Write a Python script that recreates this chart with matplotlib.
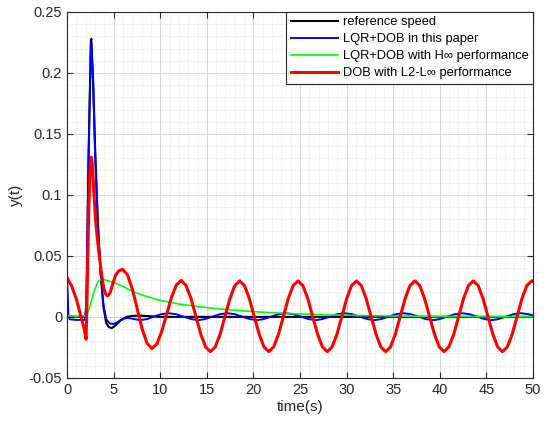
import matplotlib.pyplot as plt
from matplotlib.ticker import MultipleLocator

# reference speed
t_ref = [0, 2.0, 2.1, 2.3, 2.55, 2.6, 2.8, 3.0, 3.3, 3.6, 3.9, 4.2, 4.5, 4.8, 5.2, 5.7, 6.4, 7.0, 7.8, 9.0, 10.0, 50.0]
y_ref = [0, 0, 0.012, 0.13, 0.226, 0.228, 0.192, 0.14, 0.078, 0.036, 0.008, -0.005, -0.0085, -0.0092, -0.007, -0.003,
         0, 0.0008, 0.001, 0.0005, 0, 0]

# LQR+DOB in this paper
t_lqr = [0, 0.15, 0.3, 1.0, 1.9, 2.05, 2.3, 2.55, 2.6, 2.8, 3.0, 3.3, 3.6, 3.9, 4.2, 4.6, 5.0, 5.5, 6.0, 6.5, 7.0,
         7.8, 8.6, 9.3, 10.1, 10.9, 11.7, 12.5, 13.3, 14.1, 14.8, 15.6, 16.4, 17.2, 18.0, 18.8, 19.6,
         20.4, 21.1, 21.9, 22.7, 23.5, 24.3, 25.1, 25.9, 26.7, 27.4, 28.2, 29.0, 29.8, 30.6, 31.4, 32.2,
         33.0, 33.7, 34.5, 35.3, 36.1, 36.9, 37.7, 38.5, 39.3, 40.0, 40.8, 41.6, 42.4, 43.2, 44.0, 44.8,
         45.6, 46.3, 47.1, 47.9, 48.7, 49.5, 50.0]
y_lqr = [0.033, 0.0, -0.002, -0.0025, -0.0025, 0.01, 0.13, 0.222, 0.224, 0.19, 0.135, 0.075, 0.035, 0.010, -0.002,
         -0.0055, -0.0058, -0.004, -0.0015, -0.0008, -0.0015,
         -0.0027, -0.0018, 0.0002, 0.0022, 0.0030, 0.0022, 0.0002, -0.0018,
         -0.0027, -0.0018, 0.0002, 0.0022, 0.0030, 0.0022, 0.0002, -0.0018,
         -0.0027, -0.0018, 0.0002, 0.0022, 0.0030, 0.0022, 0.0002, -0.0018,
         -0.0027, -0.0018, 0.0002, 0.0022, 0.0030, 0.0022, 0.0002, -0.0018,
         -0.0027, -0.0018, 0.0002, 0.0022, 0.0030, 0.0022, 0.0002, -0.0018,
         -0.0027, -0.0018, 0.0002, 0.0022, 0.0030, 0.0022, 0.0002, -0.0018,
         -0.0027, -0.0018, 0.0002, 0.0022, 0.0030, 0.0022, 0.0012]

# LQR+DOB with H-infinity performance
t_hinf = [0, 1.0, 2.1, 2.5, 2.9, 3.3, 3.7, 4.2, 5, 6, 7, 8, 10, 12, 14, 16, 18, 20, 22, 25, 28, 32, 36, 40, 45, 50]
y_hinf = [0.001, 0.0005, 0.001, 0.010, 0.021, 0.029, 0.031, 0.030, 0.028, 0.025, 0.021, 0.018, 0.0135, 0.0105,
          0.0085, 0.0068, 0.0055, 0.0043, 0.0034, 0.0024, 0.0016, 0.001, 0.0006, 0.0004, 0.0002, 0.0001]

# DOB with L2-Linf performance
t_l2 = [0, 0.5, 1.0, 1.5, 1.8, 2.04, 2.15, 2.3, 2.45, 2.58, 2.7, 2.85, 3.05, 3.25, 3.45, 3.7, 3.95, 4.15, 4.35,
        4.6, 4.9, 5.2, 5.5,
        5.95, 6.48, 7.0, 7.53, 8.05, 8.58, 9.1, 9.63, 10.15, 10.68, 11.2, 11.73,
        12.25, 12.77, 13.30, 13.82, 14.34, 14.86, 15.38, 15.90, 16.43, 16.95, 17.47, 17.99,
        18.52, 19.04, 19.56, 20.08, 20.61, 21.13, 21.65, 22.17, 22.70, 23.22, 23.74, 24.26,
        24.79, 25.31, 25.83, 26.35, 26.88, 27.40, 27.92, 28.44, 28.97, 29.49, 30.01, 30.53,
        31.06, 31.58, 32.10, 32.62, 33.15, 33.67, 34.19, 34.71, 35.24, 35.76, 36.28, 36.80,
        37.33, 37.85, 38.37, 38.89, 39.42, 39.94, 40.46, 40.98, 41.51, 42.03, 42.55, 43.07,
        43.60, 44.12, 44.64, 45.16, 45.69, 46.21, 46.73, 47.25, 47.78, 48.30, 48.82, 49.34,
        49.87, 50.0]
y_l2 = [0.032, 0.025, 0.0145, 0.0, -0.009, -0.0183, 0.02, 0.08, 0.12, 0.131, 0.125, 0.105, 0.08, 0.064, 0.05,
        0.035, 0.023, 0.0185, 0.0172, 0.0195, 0.027, 0.034, 0.0375,
        0.039, 0.0346, 0.0228, 0.0065, -0.0098, -0.0216, -0.026, -0.0223, -0.012, 0.002, 0.016, 0.0262,
        0.0300, 0.0256, 0.0150, 0.0005, -0.0140, -0.0246, -0.0285, -0.0246, -0.0140, 0.0005, 0.0150, 0.0256,
        0.0295, 0.0256, 0.0150, 0.0005, -0.0140, -0.0246, -0.0285, -0.0246, -0.0140, 0.0005, 0.0150, 0.0256,
        0.0295, 0.0256, 0.0150, 0.0005, -0.0140, -0.0246, -0.0285, -0.0246, -0.0140, 0.0005, 0.0150, 0.0256,
        0.0295, 0.0256, 0.0150, 0.0005, -0.0140, -0.0246, -0.0285, -0.0246, -0.0140, 0.0005, 0.0150, 0.0256,
        0.0295, 0.0256, 0.0150, 0.0005, -0.0140, -0.0246, -0.0285, -0.0246, -0.0140, 0.0005, 0.0150, 0.0256,
        0.0295, 0.0256, 0.0150, 0.0005, -0.0140, -0.0246, -0.0285, -0.0246, -0.0140, 0.0005, 0.0150, 0.0256,
        0.0295, 0.0293]

labels = ["reference speed", "LQR+DOB in this paper", "LQR+DOB with H∞ performance", "DOB with L2-L∞ performance"]
x_ticks = [0, 5, 10, 15, 20, 25, 30, 35, 40, 45, 50]
y_ticks = [-0.05, 0, 0.05, 0.1, 0.15, 0.2, 0.25]
y_ticklabels = ["-0.05", "0", "0.05", "0.1", "0.15", "0.2", "0.25"]

plt.rcParams['font.family'] = ['Arial', 'Liberation Sans', 'DejaVu Sans']

fig = plt.figure(figsize=(5.5, 4.26), dpi=100)
ax = fig.add_axes([0.122, 0.113, 0.847, 0.859])

ax.plot(t_ref, y_ref, color="black", lw=1.5, label=labels[0])
ax.plot(t_lqr, y_lqr, color="blue", lw=1.4, label=labels[1])
ax.plot(t_hinf, y_hinf, color="#00ff00", lw=1.2, label=labels[2])
ax.plot(t_l2, y_l2, color="red", lw=2.2, label=labels[3])

ax.set_xticks(x_ticks)
ax.set_xticklabels([str(v) for v in x_ticks])
ax.set_yticks(y_ticks)
ax.set_yticklabels(y_ticklabels)
ax.xaxis.set_minor_locator(MultipleLocator(1))
ax.yaxis.set_minor_locator(MultipleLocator(0.01))
ax.set_xlim(0, 50)
ax.set_ylim(-0.05, 0.25)

ax.grid(which="major", color="#d6d6d6", lw=0.7)
ax.grid(which="minor", color="#dedede", lw=0.6, ls=":")
ax.set_axisbelow(True)
ax.tick_params(which="both", direction="in", top=True, right=True, colors="#262626", labelsize=10.5)
ax.tick_params(which="minor", length=0)
ax.tick_params(which="major", length=4)
for s in ax.spines.values():
    s.set_color("#262626")
    s.set_linewidth(0.8)

ax.set_xlabel("time(s)", fontsize=11, color="#262626", labelpad=2)
ax.set_ylabel("y(t)", fontsize=11, color="#262626", labelpad=4)

leg = ax.legend(loc="upper right", fontsize=9.3, handlelength=3.6, borderaxespad=0, fancybox=False,
                framealpha=1, edgecolor="#262626", borderpad=0.35, labelspacing=0.38, handletextpad=0.4)
leg.get_frame().set_linewidth(0.8)

fig.savefig("out.png", dpi=100)
